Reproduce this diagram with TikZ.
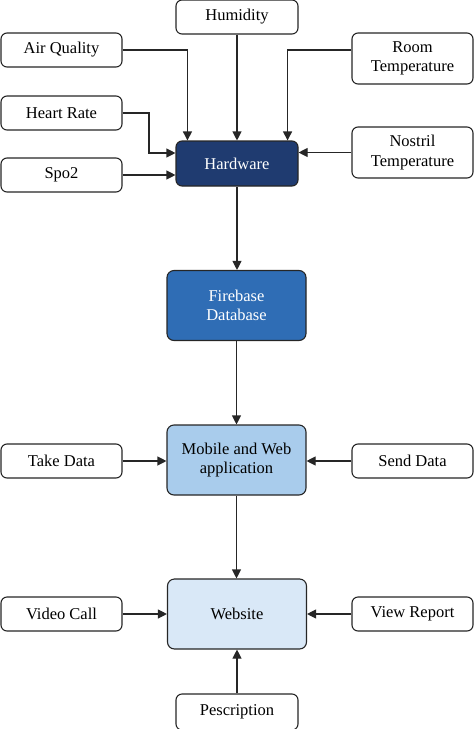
\documentclass[tikz,border=0pt]{standalone}
\usepackage{fontspec}
\setmainfont{Liberation Serif}
\usetikzlibrary{arrows.meta}
\definecolor{hwfill}{HTML}{1F3B70}
\definecolor{fbfill}{HTML}{2F6DB5}
\definecolor{mwfill}{HTML}{A9CCEC}
\definecolor{wsfill}{HTML}{D9E8F7}
\definecolor{linec}{HTML}{262626}
\begin{document}
\begin{tikzpicture}[x=1pt,y=-1pt,
  every node/.style={font=\fontsize{16.5}{19.5}\selectfont, align=center, inner sep=0pt},
  inbox/.style={draw=linec, line width=1.1pt, rounded corners=6pt, fill=white, minimum width=121pt, minimum height=34pt},
  tallbox/.style={inbox, minimum height=51pt},
  hwbox/.style={draw=linec, line width=1.1pt, rounded corners=6pt, fill=hwfill, text=white, minimum width=122pt, minimum height=45pt},
  mainbox/.style={draw=linec, line width=1.1pt, rounded corners=7pt, minimum width=139pt, minimum height=70pt},
  arr/.style={draw=linec, line width=1.1pt, -{Triangle[length=9pt,width=9pt]}}]
\useasboundingbox (0,0) rectangle (474,729);
% inputs to hardware
\node[inbox, minimum width=122pt] (hum) at (237,17) {Humidity};
\node[inbox] (air) at (61.5,50) {Air Quality};
\node[tallbox] (room) at (412.5,58.5) {Room\\Temperature};
\node[inbox] (heart) at (61.5,113) {Heart Rate};
\node[tallbox] (nos) at (412.5,152.5) {Nostril\\Temperature};
\node[inbox] (spo) at (61.5,175) {Spo2};
\node[hwbox] (hw) at (237,163.5) {Hardware};
% main chain
\node[mainbox, fill=fbfill, text=white] (fb) at (236.5,305.5) {Firebase\\Database};
\node[mainbox, fill=mwfill, text=black] (mw) at (236.5,460) {Mobile and Web\\application};
\node[mainbox, fill=wsfill, text=black] (ws) at (237,614) {Website};
% side inputs
\node[inbox] (take) at (61.5,461) {Take Data};
\node[inbox] (send) at (412.5,461) {Send Data};
\node[inbox] (video) at (61.5,614) {Video Call};
\node[inbox] (view) at (412.5,614) {View Report};
\node[inbox, minimum width=122pt, minimum height=36pt] (pres) at (237,712) {Pescription};
% connectors
\draw[arr] (hum.south) -- (hum.south |- hw.north);
\draw[arr] (air.east) -| ([xshift=12pt]hw.north west);
\draw[arr] (room.west |- air.east) -| ([xshift=-11pt]hw.north east);
\coordinate (hrbend) at (149,113);
\draw[arr] (heart.east) -- (hrbend) |- ([yshift=10.5pt]hw.west);
\draw[arr] (spo.east) -- (spo.east -| hw.west);
\draw[arr] (nos.west) -- (nos.west -| hw.east);
\draw[arr] (hw.south) -- (hw.south |- fb.north);
\draw[arr] (fb.south) -- (mw.north);
\draw[arr] (take.east) -- (take.east -| mw.west);
\draw[arr] (send.west) -- (send.west -| mw.east);
\draw[arr] (mw.south) -- (mw.south |- ws.north);
\draw[arr] (video.east) -- (ws.west);
\draw[arr] (view.west) -- (ws.east);
\draw[arr] (pres.north) -- (pres.north |- ws.south);
\end{tikzpicture}
\end{document}
